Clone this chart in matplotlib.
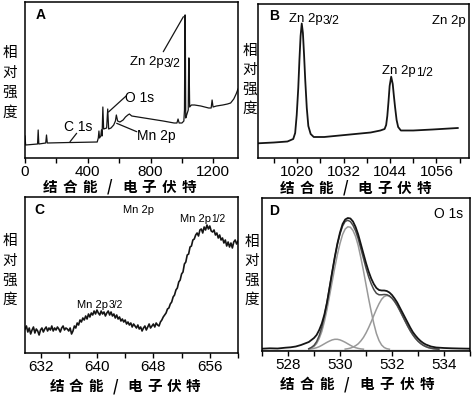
import numpy as np
import matplotlib
matplotlib.use('Agg')
import matplotlib.pyplot as plt
from matplotlib.ticker import MultipleLocator

plt.rcParams['font.family'] = ['Liberation Sans', 'DejaVu Sans']

# ---- data (binding energy in eV, intensity in arbitrary units) ----
# A: survey spectrum
a_ev = [0, 4, 80, 84, 88, 132, 137, 142, 280, 300, 460, 467, 471, 475,
        483, 487, 491, 496, 501, 520, 527, 533, 548, 565, 576, 582, 590,
        605, 625, 640, 655, 665, 680, 720, 800, 880, 950, 968, 975, 982,
        1000, 1012, 1016, 1019, 1021, 1024, 1030, 1040, 1043, 1045, 1049,
        1060, 1080, 1120, 1170, 1186, 1192, 1198, 1220, 1260, 1290, 1310,
        1330, 1345, 1357]
a_int = [22, 13, 14, 28, 14, 15, 23, 15, 15.5, 15.5, 16, 20, 27, 20,
         22, 28, 22, 51, 29, 30, 49, 29, 30, 33, 37, 43, 37,
         36, 38, 41, 43, 44, 42, 41, 39, 37, 35, 35, 39, 35,
         35, 37, 48, 143, 143, 40, 43, 48, 100, 100, 51,
         53, 53, 52, 50, 50, 58, 51, 52, 53, 54, 55,
         59, 64, 69]

# B: Zn 2p
b_ev = [1009.9, 1014, 1017.5, 1019.0, 1019.5, 1019.9, 1020.3, 1020.6, 1020.9,
        1021.2, 1021.5, 1021.8, 1022.1, 1022.5, 1022.9, 1023.5, 1024.3, 1027,
        1031, 1035, 1039, 1041.5, 1042.6, 1043.0, 1043.3, 1043.6, 1043.9,
        1044.3, 1044.7, 1045.0, 1045.3, 1045.7, 1046.1, 1046.8, 1050, 1055,
        1061.5]
b_int = [14.7, 15.5, 16.5, 19, 25, 43, 70, 98, 122,
         134.5, 125, 103, 78, 50, 32, 24, 21, 21,
         22.5, 24, 25.5, 27.5, 29, 33, 42, 56, 72,
         81.3, 74, 62, 51, 38, 31, 27.5, 27.5, 28.5,
         30]

# C: Mn 2p, 0.2 eV steps from 629.8 eV
c_start, c_step = 629.8, 0.2
c_int = [24, 27, 21, 25, 19, 23, 26, 20, 24, 22,
         18, 23, 25, 21, 24, 26, 22, 25, 23, 27,
         22, 25, 23, 26, 24, 21, 25, 27, 23, 25,
         24, 22, 25, 19, 22, 27, 25, 30, 28, 33,
         31, 35, 33, 37, 34, 39, 36, 40, 38, 42,
         39, 43, 40, 38, 42, 39, 41, 37, 40, 42,
         38, 41, 37, 39, 35, 38, 34, 36, 32, 34,
         31, 33, 29, 31, 28, 30, 26, 29, 27, 25,
         28, 24, 26, 22, 25, 27, 23, 26, 29, 25,
         27, 29, 26, 30, 28, 27, 31, 33, 36, 38,
         40, 44, 45, 49, 51, 56, 58, 63, 65, 71,
         73, 79, 81, 89, 91, 98, 99, 106, 107, 113,
         114, 118, 120, 117, 123, 124, 120, 126, 123, 128,
         124, 127, 122, 121, 123, 118, 120, 115, 118, 113,
         115, 110, 113, 107, 111, 106, 110, 105, 111, 113,
         109, 112]

# D: O 1s, measured curve
d_ev = [527.0, 527.3, 527.6, 527.9, 528.1, 528.3, 528.5, 528.7, 528.8, 528.9,
        529.0, 529.1, 529.2, 529.3, 529.4, 529.5, 529.6, 529.7, 529.8, 529.9,
        530.0, 530.1, 530.2, 530.3, 530.4, 530.5, 530.6, 530.7, 530.8, 530.9,
        531.0, 531.1, 531.2, 531.3, 531.4, 531.5, 531.6, 531.7, 531.8, 531.9,
        532.0, 532.1, 532.2, 532.3, 532.4, 532.5, 532.6, 532.7, 532.8, 532.9,
        533.0, 533.1, 533.2, 533.3, 533.4, 533.5, 533.7, 534.0, 534.3, 534.6,
        535.0]
d_int = [0.8, 1.2, 1.0, 1.8, 2.2, 3.0, 4.5, 6.5, 7.5, 9.5,
         11.5, 14.5, 19.5, 26, 35, 47, 62, 77.5, 92.5, 106,
         117, 125.5, 130, 131.5, 131, 128, 122.5, 115, 105.5, 96,
         86.5, 78, 71, 65.5, 61.5, 59.5, 59, 59, 58.5, 57,
         54.5, 51, 47, 42, 37, 32, 27, 22, 17.5, 14,
         11, 8.5, 6.5, 5, 4, 3, 2, 1.5, 1.2, 1.0,
         0.8]
# D: fit curves, 0.1 eV steps
fit_step = 0.1
env_start = 528.8
env_int = [0.8, 2.1, 4.1, 7.8, 13.8, 22.2, 33.7, 47.2, 62.5, 77.6,
           92.2, 105.2, 115.6, 123.5, 128.1, 129.2, 127.9, 124.2, 118.6, 110.8,
           101.1, 91.3, 81.5, 72.8, 65.7, 60.0, 56.2, 54.7, 54.7, 55.0,
           54.8, 53.6, 51.3, 48.0, 43.9, 39.0, 33.8, 28.6, 23.5, 18.8,
           14.7, 11.2, 8.3, 6.0, 4.2, 2.9, 1.9, 1.3, 0.8, 0.5,
           0.3]
main_start = 528.8
main_int = [0.5, 1.5, 3, 6, 11, 18, 28, 40, 54, 68,
            82, 95, 106, 115, 120.5, 122.7, 122.3, 119, 113, 104,
            92, 79, 65, 51, 38, 26, 16, 9, 4.5, 2,
            0.8, 0.3]
small_start = 528.8
small_int = [0.3, 0.6, 1.1, 1.8, 2.8, 4.2, 5.7, 7.2, 8.5, 9.6, 10.2,
             10.2, 9.6, 8.5, 7.2, 5.7, 4.2, 2.8, 1.8, 1.1, 0.6, 0.3]
shoulder_start = 530.2
shoulder_int = [0.4, 0.8, 1.4, 2.4, 3.8, 5.7, 8.5, 12, 16.5, 21.8,
                27.7, 34, 40.2, 45.7, 50.2, 53, 54, 53.3, 51.3, 48,
                43.9, 39, 33.8, 28.6, 23.5, 18.8, 14.7, 11.2, 8.3, 6.0,
                4.2, 2.9, 1.9, 1.3, 0.8, 0.5, 0.3]

xlab_chars = ['结', '合', '能', '/', '电', '子', '伏', '特']
ylab_chars = ['相', '对', '强', '度']


def grid(start, step, vals):
    return start + step * np.arange(len(vals))


W, H = 474, 396
fig = plt.figure(figsize=(W / 100, H / 100), dpi=100)


def box(l, t, r, b):
    return [l / W, 1 - b / H, (r - l) / W, (b - t) / H]


def txt(x, y, s, **kw):
    return fig.text(x / W, 1 - y / H, s, **kw)


def sub_label(ax, x, y, main, sub, fs, drop):
    # main text on its baseline, subscript hung off its lower right corner
    t = txt(x, y, main, ha='left', va='baseline', fontsize=fs)
    ax.annotate(sub, xy=(1, 0), xycoords=t, xytext=(0.3, -drop),
                textcoords='offset points', ha='left', va='bottom',
                fontsize=fs * 0.92, annotation_clip=False)


def style(ax, xlim, ylim, ticks, minor):
    ax.set_xlim(*xlim)
    ax.set_ylim(*ylim)
    ax.set_xticks(ticks)
    ax.xaxis.set_minor_locator(MultipleLocator(minor))
    ax.set_yticks([])
    ax.tick_params(axis='x', which='both', direction='out', length=3.5,
                   width=1, pad=1.5, labelsize=11)
    for s in ax.spines.values():
        s.set_linewidth(1.1)


def labels(x0, pitch, y, yx, yy0, ypitch):
    for i, ch in enumerate(xlab_chars):
        txt(x0 + i * pitch, y, ch, ha='center', va='center', fontsize=10.5,
            family=['Noto Sans CJK SC'], weight='bold')
    for i, ch in enumerate(ylab_chars):
        txt(yx, yy0 + i * ypitch, ch, ha='center', va='center', fontsize=10.5,
            family=['Noto Sans CJK SC'], zorder=-1)


line = '#151515'

# ---- A ----
axA = fig.add_axes(box(25, 2, 238, 158))
axA.plot(a_ev, a_int, color=line, lw=0.9)
style(axA, (0, 1357), (0, 156), [0, 400, 800, 1200], 200)
for xy, xyt in [((287, 16.3), (329, 24.7)), ((532, 46), (644, 62)),
                ((584, 34.7), (712, 26.3)), ((1009, 141.3), (881, 106.3))]:
    axA.annotate('', xy=xy, xytext=xyt,
                 arrowprops=dict(arrowstyle='-', color=line, lw=0.9,
                                 shrinkA=0, shrinkB=0))
txt(41, 15, 'A', ha='center', va='center', fontsize=10, weight='bold')
txt(78, 127, 'C 1s', ha='center', va='center', fontsize=10)
txt(140, 98, 'O 1s', ha='center', va='center', fontsize=10)
txt(156, 136, 'Mn 2p', ha='center', va='center', fontsize=10)
sub_label(axA, 130, 64.5, 'Zn 2p', '3/2', 9.5, 1.5)
labels(50, 19.8, 186.5, 10, 53, 20)

# ---- B ----
axB = fig.add_axes(box(258, 4, 469, 158))
axB.plot(b_ev, b_int, color=line, lw=1.3)
style(axB, (1009.9, 1064.4), (0, 154), [1020, 1032, 1044, 1056], 6)
txt(274, 16, 'B', ha='center', va='center', fontsize=10, weight='bold')
sub_label(axB, 289, 21.7, 'Zn 2p', '3/2', 9.5, 1.5)
txt(466, 24, 'Zn 2p', ha='right', va='baseline', fontsize=9.5)
sub_label(axB, 382, 74, 'Zn 2p', '1/2', 9.5, 1.5)
labels(287, 19.5, 187.5, 250, 51, 19.3)

# ---- C ----
axC = fig.add_axes(box(25, 197, 238, 353))
axC.plot(grid(c_start, c_step, c_int), c_int, color=line, lw=1.2)
style(axC, (629.8, 660.0), (0, 156), [632, 640, 648, 656], 4)
txt(39, 210, 'C', ha='center', va='center', fontsize=10, weight='bold')
txt(123, 213.3, 'Mn 2p', ha='left', va='baseline', fontsize=8)
sub_label(axC, 180, 221.7, 'Mn 2p', '1/2', 8, 0)
sub_label(axC, 77, 308.3, 'Mn 2p', '3/2', 8, 0)
labels(56.7, 19.5, 386, 10, 241, 19.7)

# ---- D ----
axD = fig.add_axes(box(262, 198, 470, 351))
axD.axhline(0, color='#999999', lw=1.0)
axD.plot(grid(main_start, fit_step, main_int), main_int, color='#999999', lw=1.1)
axD.plot(grid(small_start, fit_step, small_int), small_int, color='#999999', lw=1.1)
axD.plot(grid(shoulder_start, fit_step, shoulder_int), shoulder_int, color='#999999', lw=1.1)
axD.plot(grid(env_start, fit_step, env_int), env_int, color='#4a4a4a', lw=1.1)
axD.plot(d_ev, d_int, color=line, lw=1.3)
style(axD, (527.0, 535.0), (-1.5, 151.5), [528, 530, 532, 534], 1)
txt(274, 211, 'D', ha='center', va='center', fontsize=10, weight='bold')
txt(434, 217.7, 'O 1s', ha='left', va='baseline', fontsize=10)
labels(287, 20, 384, 251.5, 241.7, 19.5)

fig.savefig('out.png', dpi=100)
